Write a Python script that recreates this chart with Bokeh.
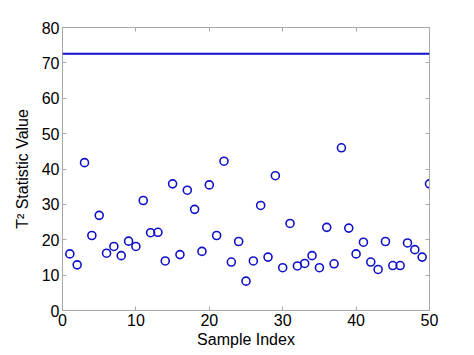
from bokeh.plotting import figure
from bokeh.models import Range1d, LinearAxis, FixedTicker, Span
from bokeh.embed import file_html
from bokeh.resources import INLINE

sample_index = list(range(1, 51))
t2_values = [16.0, 12.9, 41.8, 21.2, 26.9, 16.2, 18.1, 15.5, 19.6, 18.1,
             31.1, 22.0, 22.1, 14.0, 35.8, 15.8, 34.0, 28.6, 16.7, 35.5,
             21.2, 42.2, 13.7, 19.5, 8.3, 14.0, 29.7, 15.1, 38.1, 12.1,
             24.6, 12.6, 13.3, 15.5, 12.1, 23.5, 13.2, 46.0, 23.3, 16.0,
             19.3, 13.7, 11.6, 19.5, 12.7, 12.7, 19.1, 17.2, 15.1, 35.8]
threshold = 72.6
x_ticks = [0, 10, 20, 30, 40, 50]
y_ticks = [0, 10, 20, 30, 40, 50, 60, 70, 80]

FONT = "Liberation Sans"
AX_COL = "#a8a8a8"
BLUE = "#1010c8"

p = figure(width=466, height=350, output_backend="svg", toolbar_location=None,
           x_range=Range1d(0, 50), y_range=Range1d(0, 80),
           min_border_left=62, min_border_right=37, min_border_top=27, min_border_bottom=37)
p.xgrid.visible = False
p.ygrid.visible = False
p.outline_line_color = AX_COL
p.background_fill_color = "white"

for ax, ticks in ((p.xaxis[0], x_ticks), (p.yaxis[0], y_ticks)):
    ax.ticker = FixedTicker(ticks=ticks)
    ax.axis_line_color = AX_COL
    ax.major_tick_line_color = AX_COL
    ax.major_tick_in = 4
    ax.major_tick_out = 0
    ax.minor_tick_line_color = None
    ax.major_label_text_font = FONT
    ax.major_label_text_font_size = "16px"
    ax.major_label_text_color = "black"
    ax.axis_label_text_font = FONT
    ax.axis_label_text_font_size = "16px"
    ax.axis_label_text_font_style = "normal"
    ax.axis_label_text_color = "black"
    ax.major_label_standoff = 3

p.xaxis[0].axis_label = "Sample Index"
p.xaxis[0].axis_label_standoff = 2
p.yaxis[0].axis_label = "T² Statistic Value"
p.yaxis[0].axis_label_standoff = 8

for loc, ticks in (("above", x_ticks), ("right", y_ticks)):
    a = LinearAxis(ticker=FixedTicker(ticks=ticks), axis_line_color=AX_COL,
                   major_tick_line_color=AX_COL, major_tick_in=4, major_tick_out=0,
                   minor_tick_line_color=None,
                   major_label_overrides={t: "" for t in ticks},
                   major_label_standoff=0)
    p.add_layout(a, loc)

p.add_layout(Span(location=threshold, dimension="width", line_color=BLUE, line_width=2))

p.scatter(sample_index, t2_values, marker="circle", size=8, fill_color=None,
          line_color=BLUE, line_width=1.6)

open("out.html", "w").write(file_html(p, INLINE))
